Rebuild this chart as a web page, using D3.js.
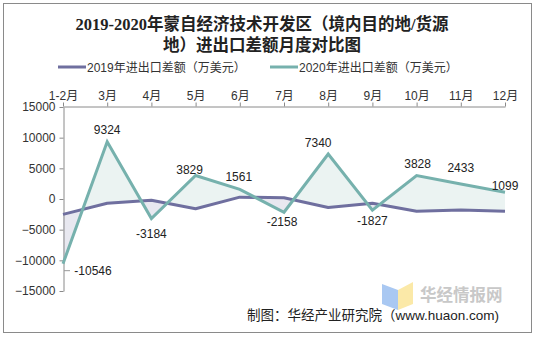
<!DOCTYPE html>
<html>
<head>
<meta charset="utf-8">
<script src="https://cdn.jsdelivr.net/npm/d3@7"></script>
<style>
    body { margin: 0; background: #fff; }
    text { font-family: "Liberation Sans", Arial, "Noto Sans CJK SC", sans-serif; }
</style>
</head>
<body>
<div id="chart"></div>
<script>

// data
const months = ['1-2月', '3月', '4月', '5月', '6月', '7月', '8月', '9月', '10月', '11月', '12月'];
const values2019 = [-2500, -700, -200, -1600, 300, 200, -1400, -700, -2000, -1800, -2000];
const values2020 = [-10546, 9324, -3184, 3829, 1561, -2158, 7340, -1827, 3828, 2433, 1099];
const yTicks = [15000, 10000, 5000, 0, -5000, -10000, -15000];
const seriesNames = ['2019年进出口差额（万美元）', '2020年进出口差额（万美元）'];

// label offsets for the 2020 values (dx, dy from point)
const labelOffsets = [[30, 11], [0, -8], [0, 19], [-6, -2], [-1, -8], [-2, 14], [-10, -7], [0, 15], [1, -8], [0, -12], [0, -2]];

const width = 535, height = 339;
const colors = {y2019: '#6f6f9f', y2020: '#76b1ad', fillUp: '#ebf3f2', fillDown: '#e8e8f0'};

let svg = d3.select('#chart').append('svg')
    .attr('width', width)
    .attr('height', height);

// outer frame
svg.append('rect')
    .attr('x', 3.5).attr('y', 3.5)
    .attr('width', 528).attr('height', 329)
    .attr('fill', '#fff')
    .attr('stroke', '#8a8a8a');

// title
let title = svg.append('text')
    .attr('text-anchor', 'middle')
    .attr('font-size', 16.5)
    .attr('font-weight', 'bold')
    .style('font-family', '"Liberation Serif", "Noto Sans CJK SC", serif')
    .attr('fill', '#222');
title.append('tspan').attr('x', 262).attr('y', 30).text('2019-2020年蒙自经济技术开发区（境内目的地/货源');
title.append('tspan').attr('x', 262).attr('y', 51).text('地）进出口差额月度对比图');

// legend
let legend = svg.append('g');
[[58, colors.y2019], [270, colors.y2020]].forEach((d, i) => {
    legend.append('line')
        .attr('x1', d[0]).attr('x2', d[0] + 28)
        .attr('y1', 67).attr('y2', 67)
        .attr('stroke', d[1]).attr('stroke-width', 3);
    legend.append('text')
        .attr('x', d[0] + 29).attr('y', 71.5)
        .attr('font-size', 12).attr('fill', '#333')
        .text(seriesNames[i]);
});

// scales
let x = d3.scalePoint().domain(months).range([63, 505]);
let y = d3.scaleLinear().domain([-15000, 15000]).range([291, 107]);

// fill between the two lines, using clip paths on the 2020 line
let defs = svg.append('defs');
let line2020 = d3.line().x((d, i) => x(months[i])).y(d => y(d));

defs.append('clipPath').attr('id', 'below2020')
    .append('path')
    .attr('d', d3.area().x((d, i) => x(months[i])).y0(291).y1(d => y(d))(values2020));
defs.append('clipPath').attr('id', 'above2020')
    .append('path')
    .attr('d', d3.area().x((d, i) => x(months[i])).y0(107).y1(d => y(d))(values2020));

svg.append('path')
    .attr('clip-path', 'url(#below2020)')
    .attr('fill', colors.fillUp)
    .attr('d', d3.area().x((d, i) => x(months[i])).y0(107).y1(d => y(d))(values2019));

svg.append('path')
    .attr('clip-path', 'url(#above2020)')
    .attr('fill', colors.fillDown)
    .attr('d', d3.area().x((d, i) => x(months[i])).y0(291).y1(d => y(d))(values2019));

// axes
let xAxis = svg.append('g')
    .attr('transform', 'translate(0,106.5)')
    .call(d3.axisTop(x).tickSizeInner(4).tickSizeOuter(0).tickPadding(3));
let yAxis = svg.append('g')
    .attr('transform', 'translate(63.5,0)')
    .call(d3.axisLeft(y).tickValues(yTicks).tickFormat(d3.format('d')).tickSizeInner(4).tickSizeOuter(0).tickPadding(4));

[xAxis, yAxis].forEach(a => {
    a.select('.domain').attr('stroke', '#8a8a8a');
    a.selectAll('.tick line').attr('stroke', '#8a8a8a');
    a.selectAll('.tick text').attr('font-size', 12).attr('fill', '#333')
        .style('font-family', '"Liberation Sans", Arial, "Noto Sans CJK SC", sans-serif');
});

// lines
svg.append('path')
    .attr('d', d3.line().x((d, i) => x(months[i])).y(d => y(d))(values2019))
    .attr('fill', 'none')
    .attr('stroke', colors.y2019)
    .attr('stroke-width', 3)
    .attr('stroke-linejoin', 'round');

svg.append('path')
    .attr('d', line2020(values2020))
    .attr('fill', 'none')
    .attr('stroke', colors.y2020)
    .attr('stroke-width', 3)
    .attr('stroke-linejoin', 'miter');

// leader line for first label
svg.append('line')
    .attr('x1', x(months[0]) + 1).attr('x2', x(months[0]) + 7)
    .attr('y1', y(values2020[0]) + 7).attr('y2', y(values2020[0]) + 7)
    .attr('stroke', '#999');

// data labels
svg.append('g').selectAll('text')
    .data(values2020)
    .enter().append('text')
    .attr('x', (d, i) => x(months[i]) + labelOffsets[i][0])
    .attr('y', (d, i) => y(d) + labelOffsets[i][1])
    .attr('text-anchor', 'middle')
    .attr('font-size', 12)
    .attr('fill', '#222')
    .text(d => d);

// watermark
let wm = svg.append('g');
wm.append('path').attr('d', 'M382,284 L398,290 L398,310 L382,304 Z').attr('fill', '#a9c8f2');
wm.append('path').attr('d', 'M398,290 L413,282 L413,304 L398,310 Z').attr('fill', '#fbe9a8');
wm.append('text')
    .attr('x', 420).attr('y', 301)
    .attr('font-size', 16.5).attr('font-weight', 'bold')
    .attr('fill', '#c8c8c8')
    .style('font-family', '"Noto Sans CJK SC", sans-serif')
    .text('华经情报网');

// source
svg.append('text')
    .attr('x', 247).attr('y', 320)
    .attr('font-size', 13.5)
    .attr('fill', '#222')
    .style('font-family', '"Liberation Sans", "Noto Sans CJK SC", sans-serif')
    .text('制图：华经产业研究院（www.huaon.com)');

</script>
</body>
</html>
